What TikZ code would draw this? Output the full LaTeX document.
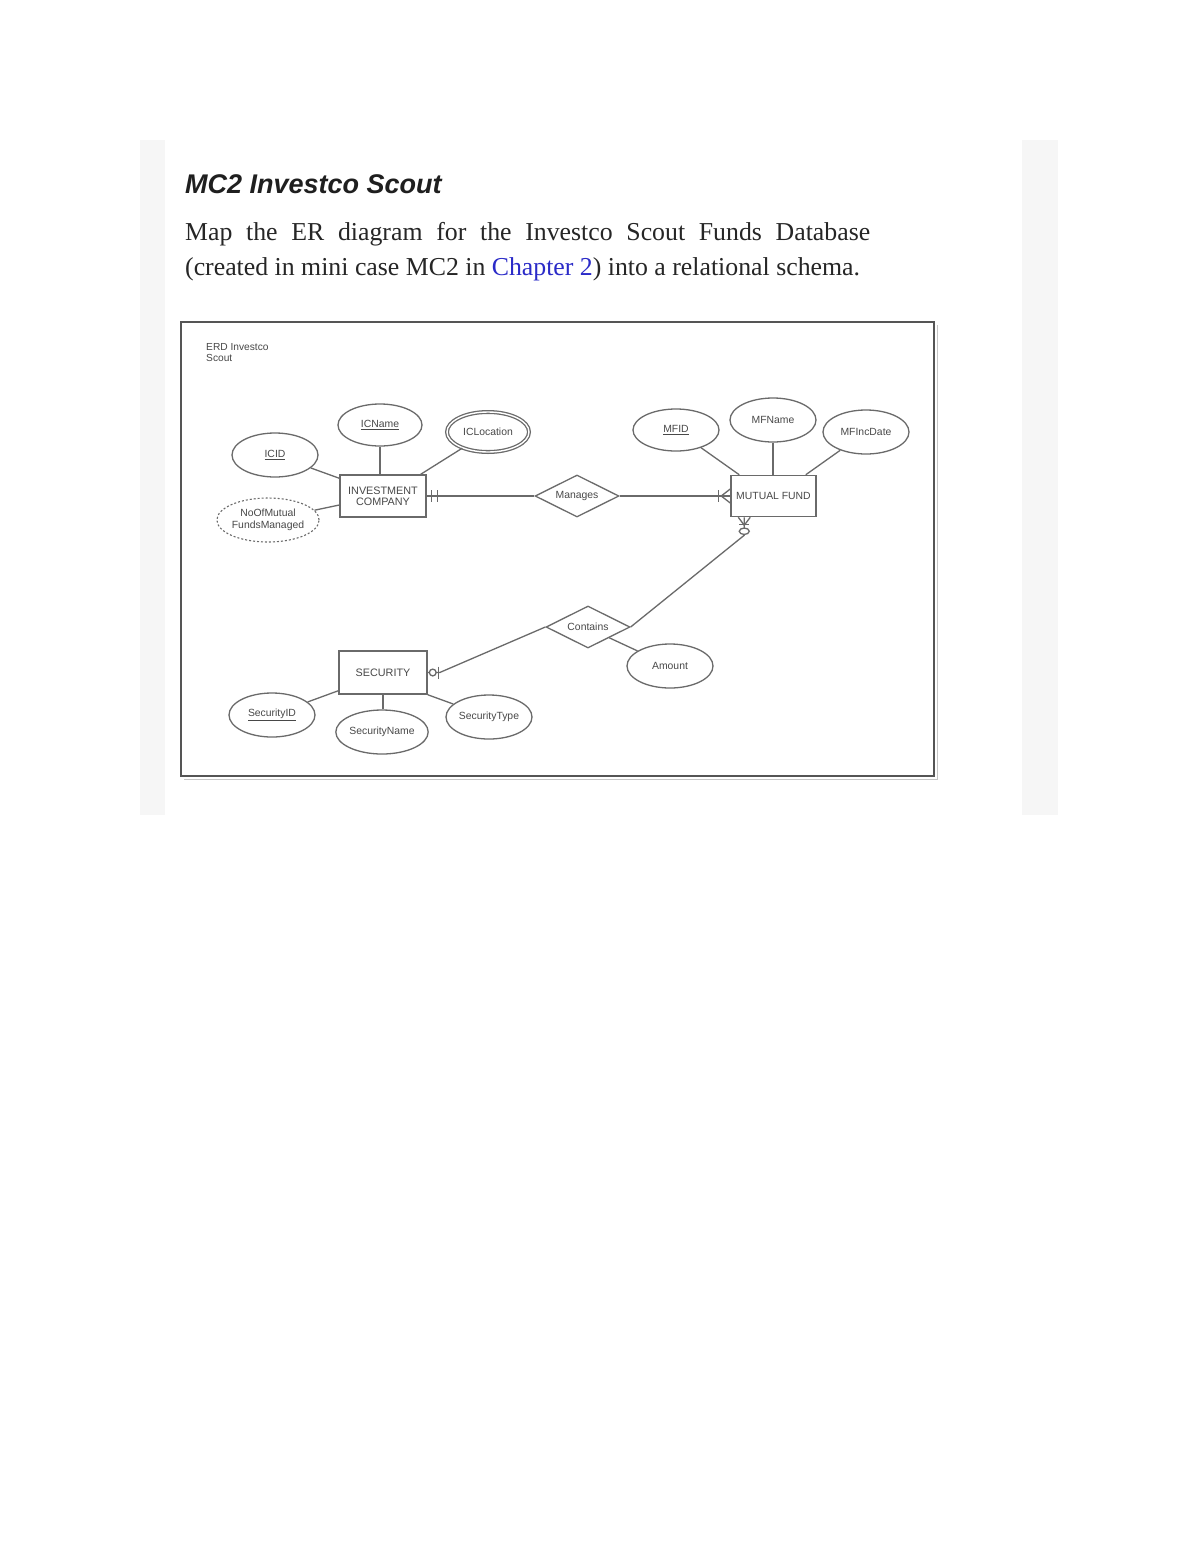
\documentclass[tikz,border=0pt]{standalone}
\usepackage{fontspec}
\setmainfont{Liberation Serif}
\setsansfont{Liberation Sans}
\usetikzlibrary{shapes.geometric,calc}
\definecolor{ln}{HTML}{6A6A6A}
\definecolor{tx}{HTML}{484848}
\definecolor{panel}{HTML}{F6F6F6}
\definecolor{linkblue}{HTML}{2B2BC8}
\definecolor{framec}{HTML}{555555}
\tikzset{
  lbl/.style={font=\sffamily\fontsize{10.4}{11.5}\selectfont, text=tx},
  attr/.style={ellipse, draw=ln, line width=1.3pt, minimum width=86pt, minimum height=44pt, inner sep=0pt, lbl},
  ent/.style={rectangle, draw=ln, line width=1.5pt, inner sep=0pt, lbl, align=center},
  rel/.style={diamond, aspect=2, draw=ln, line width=1.3pt, minimum width=84pt, minimum height=42pt, inner sep=0pt, lbl},
  conn/.style={draw=ln, line width=1.3pt},
}
\begin{document}
\begin{tikzpicture}[x=1pt,y=-1pt]
\useasboundingbox (0,0) rectangle (1200,1553);
\fill[white] (0,0) rectangle (1200,1553);
\fill[panel] (140,140) rectangle (1058,815);
\fill[white] (165,140) rectangle (1022,815);

% heading and text
\node[anchor=base west, inner sep=0pt, text=black!88, font=\sffamily\bfseries\itshape\fontsize{27}{30}\selectfont] (title) at (185,193) {MC2 Investco Scout};
\node[anchor=base west, inner sep=0pt, text=black!85, font=\fontsize{25.8}{30}\selectfont] (p1) at (185,240) {\makebox[685pt][s]{Map the ER diagram for the Investco Scout Funds Database}};
\node[anchor=base west, inner sep=0pt, text=black!85, font=\fontsize{25.8}{30}\selectfont] (p2) at (185,275) {(created in mini case MC2 in \textcolor{linkblue}{Chapter 2}) into a relational schema.};

% frame
\draw[line width=1pt, gray!45] (184,779) -- (937,779) -- (937,325);
\draw[line width=2pt, framec] (181,322) rectangle (934,776);

\node[anchor=north west, inner sep=0pt, align=left, font=\sffamily\fontsize{10.2}{11.5}\selectfont, text=tx] (erd) at (206,343) {ERD Investco\\Scout};

% entities
\node[ent, minimum width=86pt, minimum height=42pt, font=\sffamily\fontsize{10.8}{11}\selectfont] (ic) at (383,496) {INVESTMENT\\COMPANY};
\node[ent, minimum width=85pt, minimum height=41pt] (mf) at (773.5,496) {MUTUAL FUND};
\node[ent, minimum width=88pt, minimum height=43pt, font=\sffamily\fontsize{10.8}{11}\selectfont] (sec) at (383,672.5) {SECURITY};

% relationships
\node[rel] (man) at (577,496) {Manages};
\node[rel] (cont) at (588,627) {Contains};

% attributes
\node[attr] (icid) at (275,455) {\underline{ICID}};
\node[attr, minimum width=84pt, minimum height=42pt] (icname) at (380,425) {\underline{ICName}};
\node[attr, minimum width=82pt, minimum height=40pt, double=white, double distance=1.4pt, line width=1.3pt] (icloc) at (488,432) {ICLocation};
\node[attr, dashed, dash pattern=on 2pt off 2pt, line width=1.1pt, align=center] (noof) at (268,520) {NoOfMutual\\FundsManaged};
\node[attr, minimum height=42pt] (mfid) at (676,430) {\underline{MFID}};
\node[attr] (mfname) at (773,420) {MFName};
\node[attr] (mfinc) at (866,432) {MFIncDate};
\node[attr] (amount) at (670,666) {Amount};
\node[attr] (secid) at (272,715) {\underline{SecurityID}};
\node[attr] (secname) at (382,732) {SecurityName};
\node[attr] (sectype) at (489,717) {SecurityType};

% attribute connectors
\draw[conn] (icid) -- ([yshift=-4pt]ic.north west);
\draw[conn] (noof) -- ([yshift=-9pt]ic.west);
\draw[conn] (icname.south) -- (icname.south |- ic.north);
\draw[conn] (icloc) -- ([xshift=-6pt]ic.north east);
\draw[conn] (mfid) -- ([xshift=9pt]mf.north west);
\draw[conn] (mfname.south) -- (mfname.south |- mf.north);
\draw[conn] (mfinc) -- ([xshift=-11pt]mf.north east);
\draw[conn] (secid) -- ([yshift=4pt]sec.south west);
\draw[conn] (secname.north -| sec.south) -- (sec.south);
\draw[conn] (sectype) -- (sec.south east);
\draw[conn] (cont.south east) -- (amount);

% relationship connectors
\draw[conn] (ic.east) -- (man.west);
\draw[conn] (man.east) -- (mf.west);
\coordinate (mfb) at ([xshift=14pt]mf.south west);
\draw[conn] (mfb) -- ++(0,18) -- (cont.east);
\draw[conn] (sec.east) -- ++(12,0) -- (cont.west);

% cardinality marks
\draw[conn] ([xshift=5pt,yshift=6pt]ic.east) -- ++(0,12);
\draw[conn] ([xshift=11pt,yshift=6pt]ic.east) -- ++(0,12);
\draw[conn] ([yshift=7pt]mf.west) -- ([xshift=-9pt]mf.west) -- ([yshift=-7pt]mf.west);
\draw[conn] ([xshift=-12pt,yshift=6pt]mf.west) -- ++(0,12);
\draw[conn] ([xshift=-6pt]mfb) -- ([yshift=-8pt]mfb) -- ([xshift=6pt]mfb);
\draw[conn] ([xshift=-5pt,yshift=-7pt]mfb) -- ++(10,0);
\draw[conn, fill=white] ([yshift=-14pt]mfb) ellipse [x radius=5, y radius=3.2];
\draw[conn, fill=white] ([xshift=5pt]sec.east) circle [radius=3.4];
\draw[conn] ([xshift=11pt,yshift=6pt]sec.east) -- ++(0,12);
\end{tikzpicture}
\end{document}
